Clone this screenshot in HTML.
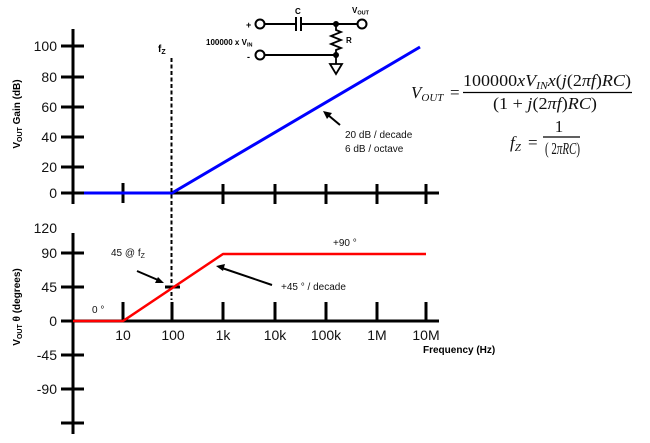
<!DOCTYPE html>
<html><head><meta charset="utf-8"><style>
html,body{margin:0;padding:0;background:#fff;}
svg{display:block;}
text{font-family:"Liberation Sans",Arial,sans-serif;}
.t{font-size:14px;fill:#111;}
.a{font-size:10px;fill:#111;}
.m{font-family:"Liberation Serif",serif;font-size:17px;fill:#111;}
.i{font-style:italic;}
</style></head><body>
<svg width="650" height="443" viewBox="0 0 650 443" xmlns="http://www.w3.org/2000/svg">
<!-- TOP GRAPH -->
<g stroke="#000" stroke-width="3" fill="none">
<line x1="73" y1="29" x2="73" y2="204"/>
<line x1="73" y1="193" x2="439" y2="193"/>
<line x1="61" y1="46" x2="84" y2="46"/>
<line x1="61" y1="77" x2="84" y2="77"/>
<line x1="61" y1="107" x2="84" y2="107"/>
<line x1="61" y1="137" x2="84" y2="137"/>
<line x1="61" y1="167" x2="84" y2="167"/>
<line x1="61" y1="193" x2="84" y2="193"/>
<line x1="123" y1="183" x2="123" y2="203"/>
<line x1="223" y1="184" x2="223" y2="204"/>
<line x1="275" y1="184" x2="275" y2="204"/>
<line x1="326" y1="184" x2="326" y2="204"/>
<line x1="377" y1="184" x2="377" y2="204"/>
<line x1="426" y1="184" x2="426" y2="204"/>
</g>
<g class="t" text-anchor="end">
<text x="57" y="51">100</text>
<text x="57" y="82">80</text>
<text x="57" y="112">60</text>
<text x="57" y="142">40</text>
<text x="57" y="172">20</text>
<text x="57" y="198">0</text>
</g>
<polyline points="84,193 172,193 420,47" stroke="#0000ff" stroke-width="3" fill="none"/>
<!-- dashed fz -->
<line x1="171.5" y1="58" x2="171.5" y2="300" stroke="#000" stroke-width="2" stroke-dasharray="4,2.5"/>
<text x="158" y="52" style="font-size:10px;font-weight:bold">f<tspan font-size="7" dy="2">Z</tspan></text>
<!-- slope annotation -->
<line x1="340" y1="125" x2="328" y2="115" stroke="#000" stroke-width="2"/>
<polygon points="323,111 332,113 327,119" fill="#000"/>
<text class="a" x="345" y="138">20 dB / decade</text>
<text class="a" x="345" y="152">6 dB / octave</text>
<text x="10" y="114" transform="rotate(-90 17 114)" style="font-size:10px;font-weight:bold" text-anchor="middle" dx="7" dy="3">V<tspan font-size="7" dy="2">OUT</tspan><tspan dy="-2"> Gain (dB)</tspan></text>

<!-- BOTTOM GRAPH -->
<g stroke="#000" stroke-width="3" fill="none">
<line x1="73" y1="233" x2="73" y2="434"/>
<line x1="73" y1="321" x2="439" y2="321"/>
<line x1="61" y1="253" x2="84" y2="253"/>
<line x1="61" y1="287" x2="84" y2="287"/>
<line x1="61" y1="321" x2="84" y2="321"/>
<line x1="61" y1="355" x2="84" y2="355"/>
<line x1="61" y1="389" x2="84" y2="389"/>
<line x1="61" y1="423" x2="84" y2="423"/>
<line x1="123" y1="302" x2="123" y2="321"/>
<line x1="172" y1="302" x2="172" y2="321"/>
<line x1="223" y1="302" x2="223" y2="321"/>
<line x1="275" y1="302" x2="275" y2="321"/>
<line x1="326" y1="302" x2="326" y2="321"/>
<line x1="377" y1="302" x2="377" y2="321"/>
<line x1="426" y1="302" x2="426" y2="321"/>
<line x1="165" y1="287" x2="180" y2="287"/>
</g>
<g class="t" text-anchor="end">
<text x="57" y="233">120</text>
<text x="57" y="258">90</text>
<text x="57" y="292">45</text>
<text x="57" y="326">0</text>
<text x="57" y="360">-45</text>
<text x="57" y="394">-90</text>
</g>
<g class="t" text-anchor="middle">
<text x="123" y="340">10</text>
<text x="173" y="340">100</text>
<text x="223" y="340">1k</text>
<text x="275" y="340">10k</text>
<text x="326" y="340">100k</text>
<text x="377" y="340">1M</text>
<text x="426" y="340">10M</text>
</g>
<text x="423" y="353" style="font-size:10px;font-weight:bold">Frequency (Hz)</text>
<polyline points="73,321 123,321 223,254 426,254" stroke="#ff0000" stroke-width="2.5" fill="none" stroke-linejoin="round"/>
<text class="a" x="92" y="313">0 °</text>
<text class="a" x="111" y="256">45 @ f<tspan font-size="7" dy="2">Z</tspan></text>
<line x1="137" y1="271" x2="158" y2="280" stroke="#000" stroke-width="2"/>
<polygon points="164,283 155,283 158,277" fill="#000"/>
<text class="a" x="333" y="246">+90 °</text>
<text class="a" x="281" y="290">+45 ° / decade</text>
<line x1="272" y1="285" x2="222" y2="268" stroke="#000" stroke-width="2"/>
<polygon points="216,266 225,264 223,271" fill="#000"/>
<text x="10" y="307" transform="rotate(-90 17 307)" style="font-size:10px;font-weight:bold" text-anchor="middle" dx="7" dy="3">V<tspan font-size="7" dy="2">OUT</tspan><tspan dy="-2"> θ (degrees)</tspan></text>

<!-- CIRCUIT -->
<g stroke="#000" stroke-width="2" fill="none">
<circle cx="260" cy="24" r="4.5" fill="#fff"/>
<circle cx="260" cy="55" r="4.5" fill="#fff"/>
<circle cx="362" cy="24" r="4.5" fill="#fff"/>
<line x1="264.5" y1="24" x2="296" y2="24"/>
<line x1="296" y1="17" x2="296" y2="31"/>
<line x1="301" y1="17" x2="301" y2="31"/>
<line x1="301" y1="24" x2="357.5" y2="24"/>
<line x1="264.5" y1="55" x2="336" y2="55"/>
<polyline points="336,24 336,30 341,32 331,36 341,40 331,44 341,48 336,50 336,64" stroke-width="1.8"/>
<polygon points="330,64 342,64 336,74" stroke-width="1.8"/>
</g>
<circle cx="336" cy="24" r="3" fill="#000"/>
<circle cx="336" cy="55" r="3" fill="#000"/>
<text x="246" y="28" style="font-size:9px;font-weight:bold">+</text>
<text x="247" y="60" style="font-size:9px;font-weight:bold">-</text>
<text x="295" y="14" style="font-size:8px;font-weight:bold">C</text>
<text x="346" y="43" style="font-size:8px;font-weight:bold">R</text>
<text x="352" y="13" style="font-size:8px;font-weight:bold">V<tspan font-size="5.5" dy="1.5">OUT</tspan></text>
<text x="206" y="45" style="font-size:8px;font-weight:bold">100000 x V<tspan font-size="5.5" dy="1.5">IN</tspan></text>

<!-- FORMULAS -->
<text class="m" x="411" y="98"><tspan class="i">V</tspan><tspan class="i" font-size="11" dy="3">OUT</tspan></text>
<text class="m" x="450" y="98">=</text>
<text class="m" x="463" y="86" textLength="168" lengthAdjust="spacingAndGlyphs">100000<tspan class="i">xV</tspan><tspan class="i" font-size="11" dy="3">IN</tspan><tspan class="i" dy="-3">x</tspan>(<tspan class="i">j</tspan>(2<tspan class="i">πf</tspan>)<tspan class="i">RC</tspan>)</text>
<line x1="463" y1="92.5" x2="632" y2="92.5" stroke="#000" stroke-width="1.2"/>
<text class="m" x="493" y="109" textLength="104" lengthAdjust="spacingAndGlyphs">(1 + <tspan class="i">j</tspan>(2<tspan class="i">πf</tspan>)<tspan class="i">RC</tspan>)</text>
<text class="m" x="510" y="148"><tspan class="i">f</tspan><tspan class="i" font-size="11" dy="3">Z</tspan></text>
<text class="m" x="528" y="148">=</text>
<text class="m" x="559" y="132" text-anchor="middle">1</text>
<line x1="543" y1="137" x2="580" y2="137" stroke="#000" stroke-width="1.2"/>
<text class="m" x="545" y="154" textLength="35" lengthAdjust="spacingAndGlyphs">( 2<tspan class="i">πRC</tspan>)</text>
</svg>
</body></html>
